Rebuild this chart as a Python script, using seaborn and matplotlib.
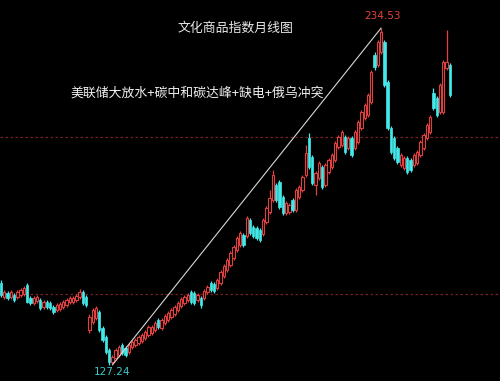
import matplotlib
matplotlib.use("Agg")
import matplotlib.pyplot as plt
import seaborn as sns
import pandas as pd

# ---- data (monthly candles) ----
opens = [153.35, 148.89, 150.17, 148.89, 149.53, 148.89, 149.53, 149.85, 152.7, 148.58,
         146.98, 147.62, 147.94, 145.71, 147.30, 146.98, 145.71, 144.75, 145.07, 145.71,
         146.35, 147.30, 147.30, 147.94, 148.89, 150.49, 148.89, 138.38, 140.93, 142.21,
         144.12, 139.02, 136.16, 132.02, 128.19, 129.47, 130.42, 133.61, 132.65, 131.38,
         132.97, 133.61, 134.25, 134.88, 135.84, 136.79, 137.43, 138.38, 141.57, 139.02,
         140.61, 141.57, 142.52, 143.48, 144.75, 146.03, 146.98, 147.94, 150.49, 150.17,
         147.94, 148.58, 148.58, 150.49, 153.35, 153.03, 151.76, 153.35, 155.58, 157.49,
         159.09, 161.31, 163.86, 165.45, 168.64, 168.32, 173.42, 171.19, 170.87, 170.23,
         168.96, 172.78, 175.96, 179.79, 184.56, 185.52, 180.74, 175.65, 175.96, 179.79,
         176.60, 180.74, 182.97, 187.75, 199.53, 193.48, 184.56, 186.79, 190.30, 184.56,
         188.70, 190.30, 192.52, 196.67, 197.30, 199.85, 196.35, 199.53, 196.35, 198.26,
         202.72, 205.90, 206.86, 211.00, 225.96, 222.78, 226.92, 230.10, 217.37, 202.72,
         199.53, 196.35, 190.93, 189.98, 193.16, 192.52, 190.93, 191.57, 194.12, 196.35,
         199.53, 201.44, 213.86, 212.27, 207.81, 207.81, 221.82, 222.78]
closes = [149.53, 150.49, 148.58, 150.49, 147.94, 150.49, 151.12, 151.76, 147.30, 146.98,
          148.58, 148.89, 145.39, 147.30, 145.71, 145.39, 144.12, 146.35, 146.67, 147.30,
          147.94, 148.58, 148.58, 149.21, 150.49, 146.98, 146.35, 142.52, 144.75, 145.39,
          138.38, 135.20, 131.38, 128.19, 129.79, 132.02, 132.97, 131.06, 130.42, 133.61,
          134.56, 135.20, 136.16, 136.79, 137.75, 139.34, 139.34, 140.61, 139.34, 141.57,
          142.84, 143.80, 144.75, 145.71, 146.98, 148.26, 148.89, 149.53, 147.30, 146.98,
          149.53, 146.35, 150.81, 152.08, 151.12, 150.81, 154.31, 156.86, 158.77, 160.68,
          162.91, 164.82, 167.68, 169.28, 165.45, 174.05, 169.28, 168.32, 167.68, 167.05,
          173.42, 177.24, 180.42, 187.75, 179.79, 177.56, 175.65, 178.83, 178.19, 176.60,
          182.97, 183.93, 187.11, 194.75, 190.30, 185.20, 188.38, 191.57, 183.93, 190.93,
          192.52, 194.12, 197.94, 199.85, 201.44, 195.07, 199.53, 194.12, 201.44, 204.63,
          207.81, 210.04, 213.23, 220.55, 222.14, 230.10, 233.29, 216.41, 202.72, 195.07,
          193.16, 191.89, 194.12, 193.16, 188.70, 189.34, 194.12, 195.07, 198.26, 200.49,
          203.67, 206.22, 209.09, 206.86, 216.41, 223.73, 223.73, 213.23]
highs = [154.3, 151.1, 150.8, 151.1, 150.2, 151.1, 151.8, 152.4, 153.4, 149.2,
         149.2, 149.5, 148.6, 147.9, 147.9, 147.6, 146.3, 146.9, 147.3, 147.9,
         148.6, 149.2, 149.2, 149.8, 151.4, 151.1, 149.5, 143.5, 145.4, 146.0,
         144.8, 139.7, 136.8, 132.7, 130.4, 132.7, 133.6, 134.3, 133.3, 134.3,
         135.2, 135.8, 136.8, 137.4, 138.4, 140.0, 140.0, 141.2, 142.2, 142.2,
         143.5, 144.4, 145.4, 146.3, 147.6, 148.9, 149.5, 150.2, 151.1, 150.8,
         150.2, 149.2, 151.4, 152.7, 154.0, 153.7, 154.9, 157.5, 159.4, 161.3,
         163.5, 165.5, 168.3, 169.9, 169.3, 174.7, 174.1, 171.8, 171.5, 170.9,
         174.1, 177.9, 182.97, 189.34, 185.2, 186.2, 181.4, 179.5, 178.8, 180.4,
         183.6, 184.6, 187.8, 197.30, 201.12, 194.1, 189.0, 192.2, 190.9, 191.6,
         193.2, 194.8, 198.6, 200.5, 202.1, 200.5, 200.2, 200.2, 202.1, 205.3,
         208.4, 210.7, 213.9, 221.2, 226.9, 230.7, 234.53, 230.7, 218.0, 203.4,
         200.2, 197.0, 194.8, 193.8, 193.8, 193.2, 194.8, 195.7, 198.9, 201.1,
         204.3, 206.9, 215.45, 212.9, 217.0, 224.4, 233.93, 223.4]
lows = [148.9, 148.3, 147.9, 148.3, 147.3, 148.3, 149.0, 149.2, 146.9, 146.4,
        146.4, 147.0, 144.8, 145.1, 145.1, 144.8, 143.5, 144.1, 144.5, 145.1,
        145.7, 146.7, 146.7, 147.3, 148.3, 146.4, 145.7, 137.4, 140.3, 141.6,
        137.8, 134.6, 130.7, 127.24, 127.6, 128.8, 129.8, 130.4, 129.8, 130.7,
        132.3, 133.0, 133.6, 134.2, 135.2, 136.2, 136.8, 137.8, 138.7, 138.4,
        140.0, 140.9, 141.9, 142.8, 144.1, 145.4, 146.4, 147.3, 146.7, 146.4,
        147.3, 145.4, 147.9, 149.9, 150.5, 150.2, 151.1, 152.7, 154.9, 156.9,
        158.5, 160.7, 163.2, 164.8, 164.8, 167.7, 168.6, 167.7, 167.0, 166.4,
        168.3, 172.1, 175.3, 179.1, 179.1, 176.9, 175.0, 175.0, 175.3, 176.0,
        176.0, 180.1, 182.3, 187.1, 189.7, 184.6, 181.38, 186.2, 183.3, 183.9,
        188.1, 189.7, 191.9, 196.0, 196.7, 194.4, 195.7, 193.5, 195.7, 197.6,
        202.1, 205.3, 206.2, 210.4, 221.2, 222.1, 226.3, 215.8, 202.1, 194.4,
        192.5, 191.3, 190.3, 189.3, 188.1, 188.7, 190.3, 190.9, 193.5, 195.7,
        198.9, 200.8, 208.4, 206.2, 207.2, 207.2, 221.2, 212.6]

low_value = 127.24
high_value = 234.53
ref_levels = [150, 200]
trend_idx = [34, 116]
trend_val = [127.24, 234.53]
title_text = "文化商品指数月线图"
note_text = "美联储大放水+碳中和碳达峰+缺电+俄乌冲突"

# ---- style ----
sns.set_style("dark", {"axes.facecolor": "black", "figure.facecolor": "black"})
plt.rcParams["font.family"] = ["Noto Sans CJK SC", "DejaVu Sans"]

RED = "#e04040"
CYAN = "#44e8e8"

df = pd.DataFrame({"open": opens, "close": closes, "high": highs, "low": lows})
df["idx"] = range(len(df))

fig = plt.figure(figsize=(5.0, 3.81), dpi=100)
ax = fig.add_axes([0, 0, 1, 1])
ax.set_facecolor("black")

# reference dotted lines
for lv in ref_levels:
    ax.axhline(lv, color="#7a2020", lw=0.9, ls=(0, (2, 2)), zorder=1)

up = df[df["close"] >= df["open"]]
dn = df[df["close"] < df["open"]]

w = 0.72
ax.vlines(up["idx"], up["low"], up["high"], color=RED, lw=0.9, zorder=2)
ax.vlines(dn["idx"], dn["low"], dn["high"], color=CYAN, lw=0.9, zorder=2)
ax.bar(up["idx"], up["close"] - up["open"], bottom=up["open"], width=w,
       facecolor="black", edgecolor=RED, linewidth=0.8, zorder=3)
ax.bar(dn["idx"], dn["open"] - dn["close"], bottom=dn["close"], width=w,
       facecolor=CYAN, edgecolor=CYAN, linewidth=0.5, zorder=3)

# trend line from low to high
tdf = pd.DataFrame({"x": trend_idx, "y": trend_val})
sns.lineplot(data=tdf, x="x", y="y", ax=ax, color="#d8d8d8", lw=0.8, zorder=4)

ax.set_xlim(-0.305, 152.3)
ax.set_ylim(122.14, 243.48)
ax.set_xticks([])
ax.set_yticks([])
ax.set_xlabel("")
ax.set_ylabel("")
for s in ax.spines.values():
    s.set_visible(False)

# texts
fig.text(0.472, 1 - 28 / 381, title_text, color="#e8e8e8", fontsize=9.3,
         ha="center", va="center")
fig.text(70 / 500, 1 - 93 / 381, note_text, color="#f0f0f0", fontsize=9.3,
         ha="left", va="center")
ax.text(116.5, high_value + 2.4, f"{high_value:.2f}", color=RED, fontsize=7.5,
        ha="center", va="bottom", family="DejaVu Sans")
ax.text(34.0, low_value - 0.8, f"{low_value:.2f}", color="#3cc8c8", fontsize=7.5,
        ha="center", va="top", family="DejaVu Sans")

fig.savefig("out.png", dpi=100, facecolor="black")
